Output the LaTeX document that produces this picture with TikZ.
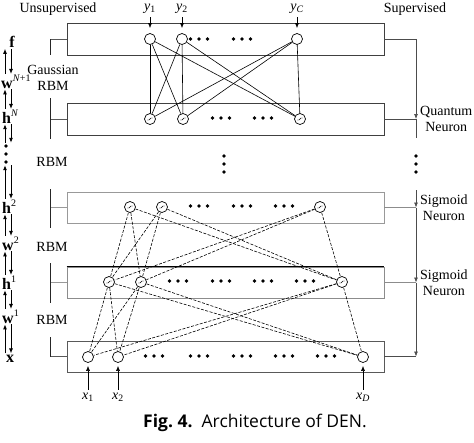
\documentclass[tikz,border=0pt]{standalone}
\usepackage{fontspec}
\setmainfont{Liberation Serif}
\newfontfamily\capfont{Open Sans}
\usetikzlibrary{positioning, arrows.meta}

\newcommand{\supx}[1]{\textsuperscript{\normalfont\fontsize{10}{10}\selectfont #1}}

\begin{document}
\begin{tikzpicture}
    [
      x = 1pt, y = -1pt,
      font = \fontsize{14}{16}\selectfont,
      > = {Latex[length = 5pt, width = 4pt]},
      LAYER/.style={rectangle, draw=black!75, line width = 0.8pt, minimum width = 317pt, minimum height = 32pt, inner sep = 0pt},
      UNIT/.style={circle, draw=black, line width = 0.7pt, fill=white, minimum size = 11pt, inner sep = 0pt},
      HIDDEN/.style={UNIT, path picture = {\draw[line width = 0.4pt] ([xshift = -3pt, yshift = -1pt]path picture bounding box.center) -- ([xshift = -1pt, yshift = -1pt]path picture bounding box.center) -- ([xshift = 1pt, yshift = 1pt]path picture bounding box.center) -- ([xshift = 3pt, yshift = 1pt]path picture bounding box.center);}},
      LINK/.style={line width = 0.6pt, black},
      DLINK/.style={LINK, dash pattern = on 3pt off 1.5pt},
      TICK/.style={line width = 0.7pt, black!65},
      BAR/.style={line width = 1.1pt, black!85},
      FEED/.style={line width = 0.7pt, black!70},
      SYM/.style={inner sep = 1pt, font = \fontsize{16}{18}\selectfont\bfseries},
      NOTE/.style={align = center, inner sep = 1pt},
    ]

    \useasboundingbox (0,0) rectangle (474,442);

    \node[LAYER] (L1) at (225.5,39) {};
    \node[LAYER] (L2) at (225.5,119) {};
    \node[LAYER, draw=black!40, minimum height = 31pt] (L3) at (225.5,207.5) {};
    \node[LAYER, draw=black!45, minimum height = 31pt] (L4) at (225.5,282.5) {};
    \node[LAYER, draw=black!65, minimum height = 31pt] (L5) at (225.5,356.5) {};
    \draw[line width = 1.2pt] (L4.north west) -- (L4.north east);

    \node[UNIT] (out1) at (150,39) {};
    \node[UNIT] (out2) at (182,39) {};
    \node[UNIT] (out3) at (297,39) {};
    \node[HIDDEN] (qu1) at (150,119) {};
    \node[HIDDEN] (qu2) at (183,119) {};
    \node[HIDDEN] (qu3) at (300,119) {};
    \node[HIDDEN] (hb1) at (130,207) {};
    \node[HIDDEN] (hb2) at (162,207) {};
    \node[HIDDEN] (hb3) at (320,207) {};
    \node[HIDDEN] (ha1) at (109,282) {};
    \node[HIDDEN] (ha2) at (141,282) {};
    \node[HIDDEN] (ha3) at (342,282) {};
    \node[UNIT] (in1) at (88,357) {};
    \node[UNIT] (in2) at (118,357) {};
    \node[UNIT] (in3) at (363,357) {};

    \foreach \a in {1,2,3}
      \foreach \b in {1,2,3} {
        \draw[LINK] (out\a) -- (qu\b);
        \draw[DLINK] (hb\a) -- (ha\b);
        \draw[DLINK] (ha\a) -- (in\b);
      }

    % dots inside the layers
    \foreach \p/\q in {199/39, 242/39, 221/118, 263/118, 199/206, 242/206, 284/206, 178/281, 221/281, 263/281, 305/281, 154/356, 199/356, 242/356, 284/356, 326/356}
      \foreach \k in {-8.5,0,8.5}
        \fill (\p+\k,\q) circle (1.8pt);
    \foreach \p in {224,416}
      \foreach \k in {-8,0,8}
        \fill (\p,164+\k) circle (1.8pt);

    \node (y1) [above = 16pt of out1] {\textit{y}\textsubscript{1}};
    \node (y2) [above = 16pt of out2] {\textit{y}\textsubscript{2}};
    \node (yC) [above = 16pt of out3] {\textit{y}\textsubscript{\textit{C}}};
    \node (x1) [below = 27pt of in1] {\textit{x}\textsubscript{1}};
    \node (x2) [below = 27pt of in2] {\textit{x}\textsubscript{2}};
    \node (xD) [below = 27pt of in3] {\textit{x}\textsubscript{\textit{D}}};
    \draw[ ->, LINK, shorten > = 5pt] (y1) -- (out1);
    \draw[ ->, LINK, shorten > = 5pt] (y2) -- (out2);
    \draw[ ->, LINK, shorten > = 5pt] (yC) -- (out3);
    \draw[ ->, LINK, shorten > = 3pt] (x1) -- (in1);
    \draw[ ->, LINK, shorten > = 3pt] (x2) -- (in2);
    \draw[ ->, LINK, shorten > = 3pt] (xD) -- (in3);

    % left brackets
    \draw[TICK] (L1.west) -- ++(-16,0) coordinate (b1);
    \draw[BAR] (b1) -- ++(0,16);
    \draw[TICK] (L2.west) -- ++(-16,0) coordinate (b2);
    \draw[BAR] ([yshift = 21pt]b2) -- ([yshift = -20pt]b2);
    \draw[TICK, black!40] (L3.west) -- ++(-16,0) coordinate (b3);
    \draw[BAR] ([yshift = 18.5pt]b3) -- ([yshift = -20.5pt]b3);
    \draw[TICK, black!40] (L4.west) -- ++(-16,0) coordinate (b4);
    \draw[BAR] ([yshift = 19.5pt]b4) -- ([yshift = -20.5pt]b4);
    \draw[TICK] (L5.west) -- ++(-16,0) coordinate (b5);
    \draw[BAR] ([yshift = 19.5pt]b5) -- (b5);

    % right side
    \coordinate (jq) at (416,119);
    \coordinate (jtop) at (416,190);
    \coordinate (j3) at (416,207.5);
    \coordinate (j4) at (416,282.5);
    \coordinate (j5) at (416,356.5);
    \draw[ ->, FEED] (L1.east) -| (jq);
    \draw[FEED] (L2.east) -- (jq) -- ++(0,19);
    \draw[ ->, FEED] (jtop) -- (j3);
    \draw[ ->, FEED] (j3) -- (j4);
    \draw[ ->, FEED] (j4) -- (j5);
    \draw[FEED, black!45] (L3.east) -- (j3);
    \draw[FEED, black!45] (L4.east) -- (j4);
    \draw[FEED] (L5.east) -- (j5);

    \node (unsup) at (58,9) {Unsupervised};
    \node (sup) at (415,9) {Supervised};
    \node[NOTE] (quantum) [right = 3pt of jq] {Quantum\\Neuron};
    \node[NOTE] (sig3) [right = 3pt of j3] {Sigmoid\\Neuron};
    \node[NOTE] (sig4) [right = 3pt of j4] {Sigmoid\\Neuron};
    \node[NOTE] (gauss) at (53,78) {Gaussian\\RBM};
    \node (rbm3) at (52,162) {RBM};
    \node (rbm2) at (52,247) {RBM};
    \node (rbm1) at (52,320) {RBM};

    % left column
    \node[SYM] (f) at (12,42) {f};
    \node[SYM, anchor = base west] (wN) at (0,88) {w\supx{\textit{N}+1}};
    \node[SYM, anchor = base west] (hN) at (1,123) {h\supx{\textit{N}}};
    \node[inner sep = 0pt, minimum height = 22pt, minimum width = 4pt] (vd) at (6,154) {};
    \foreach \k in {-8,0,8}
      \fill (6,154+\k) circle (1.8pt);
    \node[SYM, anchor = base west] (hB) at (1,213) {h\supx{2}};
    \node[SYM, anchor = base west] (wB) at (1,250) {w\supx{2}};
    \node[SYM, anchor = base west] (hA) at (1,289) {h\supx{1}};
    \node[SYM, anchor = base west] (wA) at (1,323) {w\supx{1}};
    \node[SYM, anchor = base] (x) at (10,362) {x};
    \coordinate (up) at (5,0);
    \coordinate (dn) at (11,0);
    \foreach \a/\b in {f/wN, wN/hN, hN/vd, vd/hB, hB/wB, wB/hA, hA/wA, wA/x} {
      \draw[ ->, line width = 0.9pt] (up |- \b.north) -- (up |- \a.south);
      \draw[ ->, line width = 0.9pt] (dn |- \a.south) -- (dn |- \b.north);
    }

    \node[font = \capfont\fontsize{17.5}{19}\selectfont] (caption) at (255,423) {\textbf{Fig.~4.}\ \ Architecture of DEN.};

  \end{tikzpicture}
\end{document}
